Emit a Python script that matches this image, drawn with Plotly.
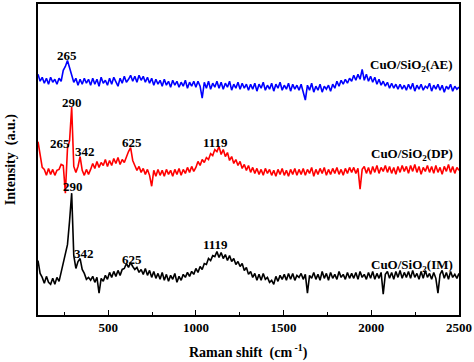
import plotly.graph_objects as go

# Raman shift grid (cm^-1), sampled every 12 cm^-1
raman_shift = list(range(100, 2501, 12))

# Intensities (arbitrary units, stacked offsets as in the figure)
intensity_AE = [
    243,236,240,234,239,233,240,235,238,233,239,236,247,251,257,249,242,235,239,232,238,233,239,234,238,
    232,239,233,238,231,240,234,237,232,239,233,240,235,231,239,234,241,235,238,242,236,241,235,242,237,
    241,235,240,234,239,232,238,233,237,231,238,232,236,230,237,232,236,230,235,231,237,229,235,231,236,
    230,236,231,219,235,229,236,228,234,230,236,229,235,228,234,230,236,227,233,229,235,228,234,229,233,
    227,233,228,234,226,233,229,235,227,232,228,234,226,233,229,235,227,232,228,234,226,233,228,232,227,
    233,226,217,232,227,234,225,231,227,233,225,231,228,232,226,233,229,236,231,237,233,238,234,239,236,
    242,237,243,238,248,237,243,236,241,235,240,233,238,232,236,231,235,229,234,229,233,228,233,228,232,
    227,233,228,234,226,232,228,233,227,231,229,234,226,232,228,233,227,232,225,231,228,233,226,231,228,
    230,
]
intensity_DP = [
    175,162,149,147,141,148,142,147,141,146,147,152,151,123,168,176,210,150,144,150,160,146,141,147,142,
    147,153,148,155,149,154,151,157,150,156,151,158,153,159,152,157,154,160,165,169,156,151,146,150,144,
    148,142,147,141,130,146,140,147,141,146,140,147,142,146,140,147,142,148,141,147,143,149,144,150,145,
    149,155,151,157,154,159,157,163,161,167,165,170,162,167,160,164,156,160,153,157,151,155,148,152,146,
    151,144,149,143,148,142,147,141,148,143,147,141,146,140,147,142,148,141,146,140,147,142,148,141,147,
    142,148,141,147,143,149,140,147,142,148,143,149,141,147,142,148,143,149,142,147,141,148,143,149,144,
    149,143,148,127,147,150,143,149,142,150,144,151,143,149,145,151,144,150,143,149,142,150,144,151,145,
    150,143,151,145,152,144,150,142,149,145,151,144,150,143,151,144,149,142,150,145,152,144,150,143,149,
    146,
]
intensity_IM = [
    55,42,38,32,39,33,31,37,31,38,34,44,52,61,71,95,123,60,47,54,57,46,42,36,38,
    35,39,33,38,22,37,34,40,36,43,38,44,39,45,40,46,47,52,48,53,49,46,48,43,46,
    41,47,40,45,38,44,37,42,36,43,35,41,34,40,36,42,33,39,35,41,38,43,39,44,41,
    47,43,49,46,52,51,57,55,60,59,64,58,63,57,61,55,60,54,57,51,54,49,52,45,48,
    41,44,38,42,35,41,35,42,36,38,33,35,31,39,34,40,36,41,35,42,36,42,35,40,38,
    42,36,41,22,40,37,43,36,41,35,44,37,42,35,43,37,41,36,44,38,41,36,43,37,42,
    37,43,36,44,38,41,36,43,37,44,36,42,37,43,21,41,44,37,43,36,44,38,45,37,43,
    38,44,37,45,38,42,36,44,37,45,38,42,36,43,37,22,41,45,37,43,36,44,38,41,37,
    42,
]

series_names = ["CuO/SiO<sub>2</sub>(AE)", "CuO/SiO<sub>2</sub>(DP)", "CuO/SiO<sub>2</sub>(IM)"]
series_colors = ["#0000ff", "#ff0000", "#000000"]
series_data = [intensity_AE, intensity_DP, intensity_IM]
series_label_y = [252, 162, 50]

# Peak labels: (text, x position, y position)
peak_labels = [
    ("265", 265, 262),
    ("290", 293, 215), ("265", 225, 173), ("342", 367, 165), ("625", 633, 174), ("1119", 1110, 174),
    ("290", 299, 130), ("342", 361, 62), ("625", 633, 56), ("1119", 1110, 71),
]

x_tick_vals = [500, 1000, 1500, 2000, 2500]

FONT = "Liberation Serif"

fig = go.Figure()
for name, color, ys in zip(series_names, series_colors, series_data):
    fig.add_trace(go.Scatter(x=raman_shift, y=ys, mode="lines", name=name,
                             line=dict(color=color, width=1.6), showlegend=False))

annotations = []
for text, xx, yy in peak_labels:
    annotations.append(dict(x=xx, y=yy, text=f"<b>{text}</b>", showarrow=False,
                            font=dict(family=FONT, size=13, color="black")))
for name, yy in zip(series_names, series_label_y):
    annotations.append(dict(x=2480, y=yy, text=f"<b>{name}</b>", showarrow=False, xanchor="right",
                            font=dict(family=FONT, size=13, color="black")))
annotations.append(dict(xref="paper", yref="paper", x=0.5, y=-0.118, yanchor="middle",
                        text="<b>Raman shift  (cm<sup> -1</sup>)</b>", showarrow=False,
                        font=dict(family=FONT, size=14, color="black")))
annotations.append(dict(xref="paper", yref="paper", x=-0.065, y=0.5, xanchor="center",
                        text="<b>Intensity  (a.u.)</b>", showarrow=False, textangle=-90,
                        font=dict(family=FONT, size=14, color="black")))

fig.update_layout(
    width=474, height=362,
    margin=dict(l=38, r=13, t=2, b=47),
    paper_bgcolor="white", plot_bgcolor="white",
    annotations=annotations,
    xaxis=dict(range=[100, 2500], tickvals=x_tick_vals, ticks="inside", ticklen=5, tickwidth=1.2,
               tickcolor="black", showline=True, linecolor="black", linewidth=1.5, mirror=True,
               showgrid=False, zeroline=False,
               tickfont=dict(family=FONT, size=13, color="black", weight="bold"),
               minor=dict(tickvals=[250, 750, 1250, 1750, 2250], ticks="inside", ticklen=3,
                          tickcolor="black", tickwidth=1)),
    yaxis=dict(range=[0, 314], showticklabels=False, ticks="", showline=True, linecolor="black",
               linewidth=1.5, mirror=True, showgrid=False, zeroline=False),
)

fig.write_html("out.html", config={"displayModeBar": False},
               post_script="document.body.style.margin='0';document.body.style.overflow='hidden';")
